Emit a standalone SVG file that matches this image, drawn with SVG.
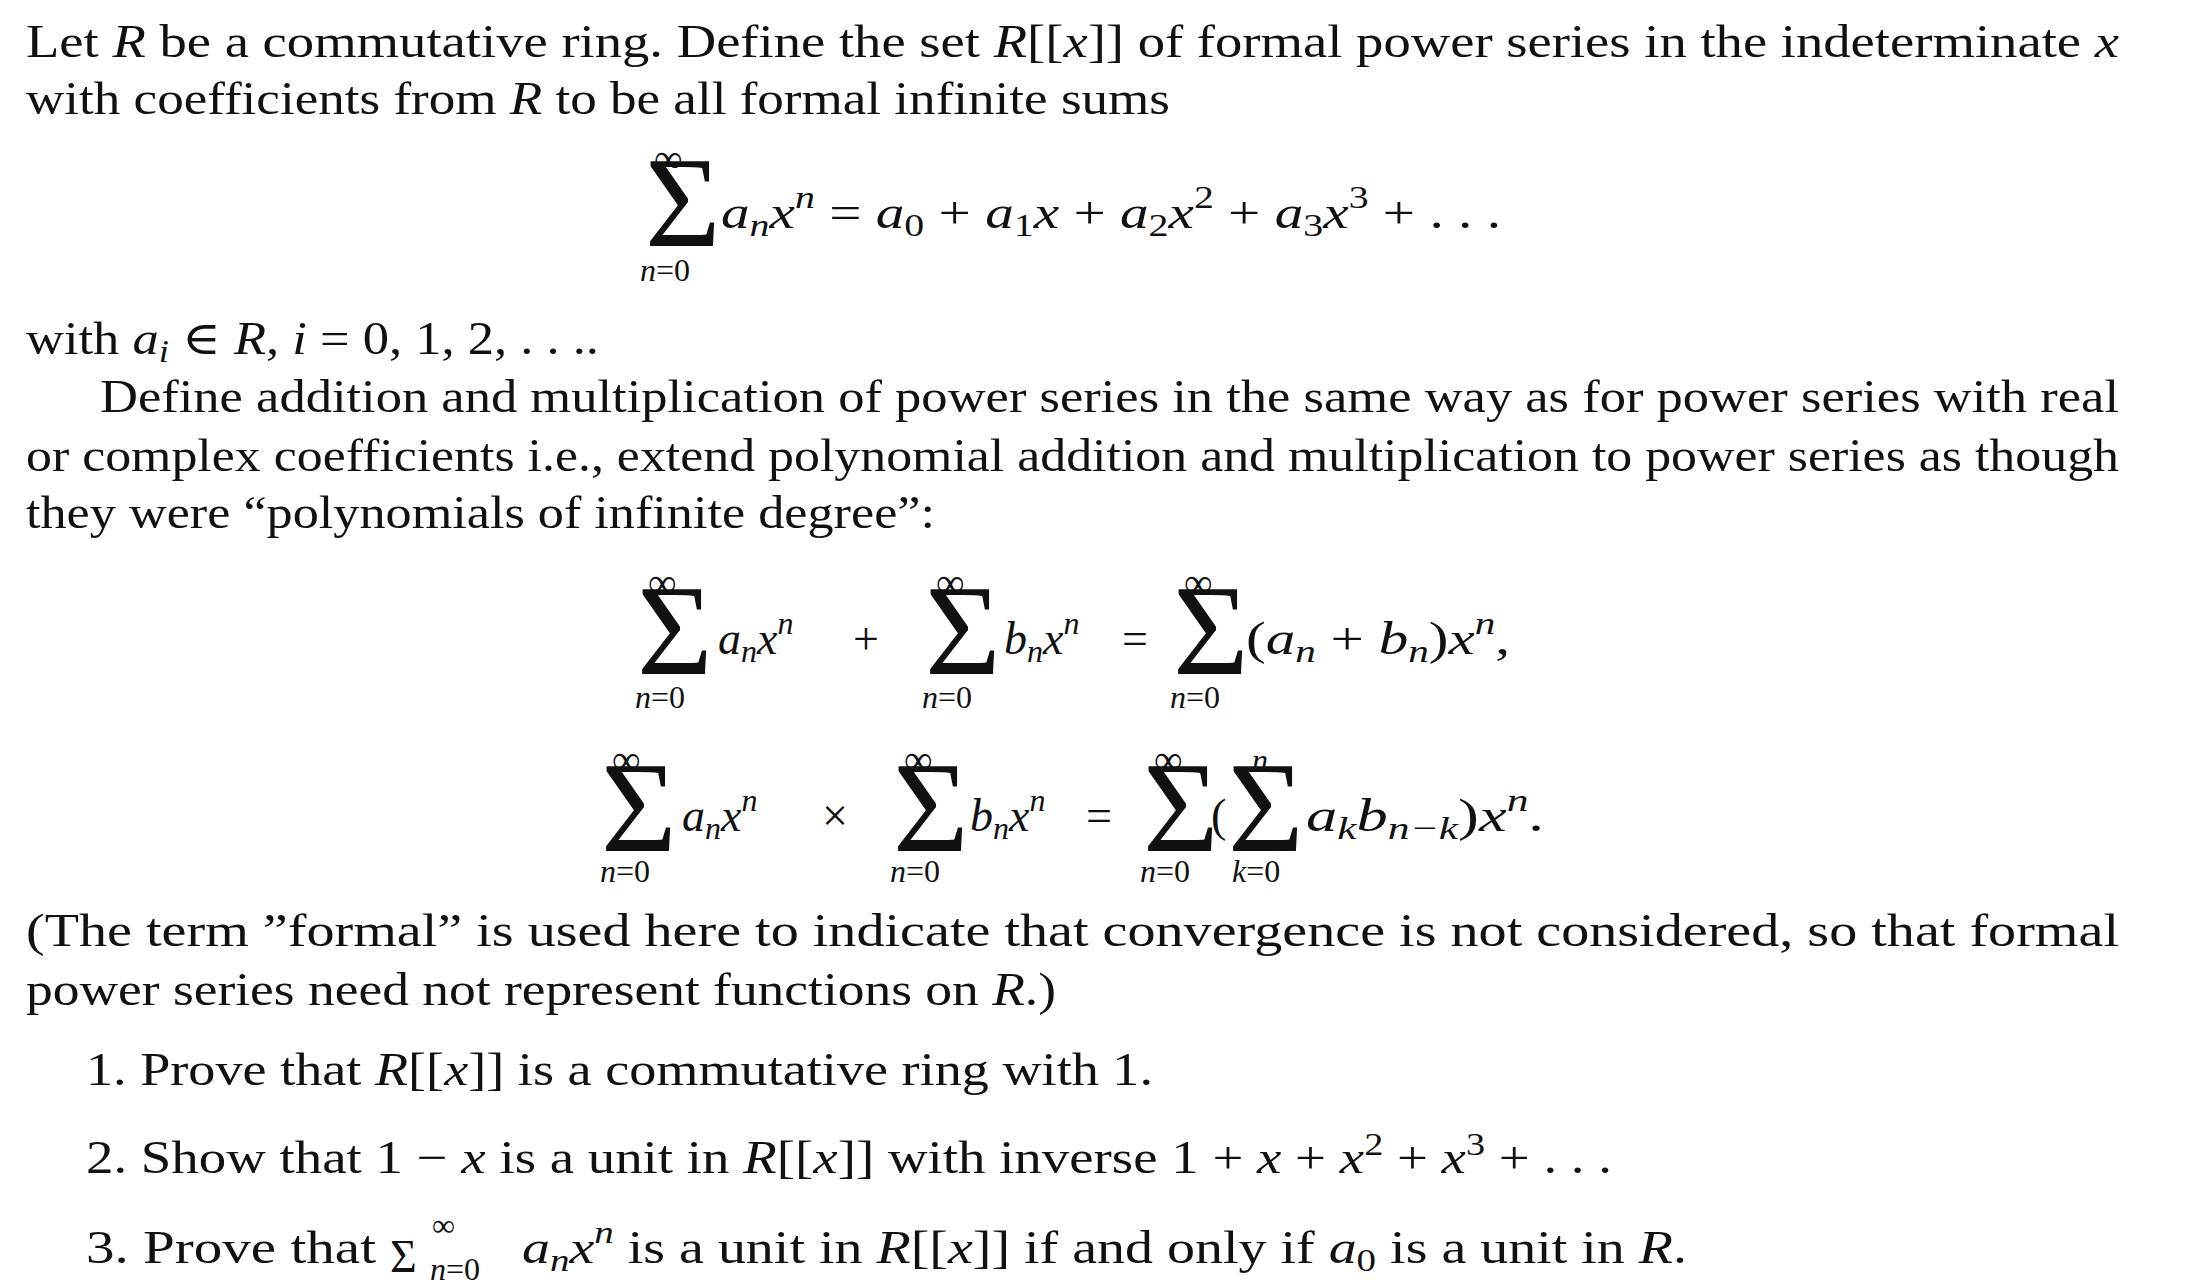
<svg xmlns="http://www.w3.org/2000/svg" width="2212" height="1288" viewBox="0 0 2212 1288">
<style>
text{font-family:"Liberation Serif","DejaVu Serif",serif;font-size:46px;fill:#111}
.i{font-style:italic}
.s{font-size:32px}
.inf{font-size:40px}
.S{font-size:130px}
.l{font-size:32px;font-style:italic}
</style>
<rect width="2212" height="1288" fill="#fff"/>
<g id="para1">
<text x="26" y="57" textLength="2093" lengthAdjust="spacingAndGlyphs">Let <tspan class="i">R</tspan> be a commutative ring. Define the set <tspan class="i">R</tspan>[[<tspan class="i">x</tspan>]] of formal power series in the indeterminate <tspan class="i">x</tspan></text>
<text x="26" y="114" textLength="1144" lengthAdjust="spacingAndGlyphs">with coefficients from <tspan class="i">R</tspan> to be all formal infinite sums</text>
</g>
<g id="eq1">
<text x="654" y="172" class="inf">∞</text>
<text x="645" y="246" class="S">Σ</text>
<text x="640" y="281" class="l">n<tspan font-style="normal">=0</tspan></text>
<text x="721" y="228" textLength="780" lengthAdjust="spacingAndGlyphs"><tspan class="i">a</tspan><tspan class="l" dy="8">n</tspan><tspan class="i" dy="-8">x</tspan><tspan class="l" dy="-20">n</tspan><tspan dy="20"> = </tspan><tspan class="i">a</tspan><tspan class="s" dy="8">0</tspan><tspan dy="-8"> + </tspan><tspan class="i">a</tspan><tspan class="s" dy="8">1</tspan><tspan class="i" dy="-8">x</tspan><tspan> + </tspan><tspan class="i">a</tspan><tspan class="s" dy="8">2</tspan><tspan class="i" dy="-8">x</tspan><tspan class="s" dy="-20">2</tspan><tspan dy="20"> + </tspan><tspan class="i">a</tspan><tspan class="s" dy="8">3</tspan><tspan class="i" dy="-8">x</tspan><tspan class="s" dy="-20">3</tspan><tspan dy="20"> + . . .</tspan></text>
</g>
<g id="para2">
<text x="26" y="354" textLength="573" lengthAdjust="spacingAndGlyphs">with <tspan class="i">a</tspan><tspan class="l" dy="8">i</tspan><tspan dy="-8"> ∈ </tspan><tspan class="i">R</tspan>, <tspan class="i">i</tspan> = 0, 1, 2, . . ..</text>
<text x="100" y="412" textLength="2019" lengthAdjust="spacingAndGlyphs">Define addition and multiplication of power series in the same way as for power series with real</text>
<text x="26" y="471" textLength="2093" lengthAdjust="spacingAndGlyphs">or complex coefficients i.e., extend polynomial addition and multiplication to power series as though</text>
<text x="26" y="528" textLength="909" lengthAdjust="spacingAndGlyphs">they were “polynomials of infinite degree”:</text>
</g>
<g id="eq2">
<text x="648" y="596" class="inf">∞</text><text x="936" y="596" class="inf">∞</text><text x="1184" y="596" class="inf">∞</text>
<text x="637" y="674" class="S">Σ</text><text x="925" y="674" class="S">Σ</text><text x="1173" y="674" class="S">Σ</text>
<text x="635" y="708" class="l">n<tspan font-style="normal">=0</tspan></text>
<text x="922" y="708" class="l">n<tspan font-style="normal">=0</tspan></text>
<text x="1170" y="708" class="l">n<tspan font-style="normal">=0</tspan></text>
<text x="718" y="654"><tspan class="i">a</tspan><tspan class="l" dy="8">n</tspan><tspan class="i" dy="-8">x</tspan><tspan class="l" dy="-20">n</tspan></text>
<text x="853" y="654">+</text>
<text x="1004" y="654"><tspan class="i">b</tspan><tspan class="l" dy="8">n</tspan><tspan class="i" dy="-8">x</tspan><tspan class="l" dy="-20">n</tspan></text>
<text x="1122" y="654">=</text>
<text x="1246" y="654" textLength="264" lengthAdjust="spacingAndGlyphs">(<tspan class="i">a</tspan><tspan class="l" dy="8">n</tspan><tspan dy="-8"> + </tspan><tspan class="i">b</tspan><tspan class="l" dy="8">n</tspan><tspan dy="-8">)</tspan><tspan class="i">x</tspan><tspan class="l" dy="-20">n</tspan><tspan dy="20">,</tspan></text>
</g>
<g id="eq3">
<text x="612" y="773" class="inf">∞</text><text x="904" y="773" class="inf">∞</text><text x="1154" y="773" class="inf">∞</text><text x="1252" y="771" class="l">n</text>
<text x="601" y="851" class="S">Σ</text><text x="893" y="851" class="S">Σ</text><text x="1143" y="851" class="S">Σ</text><text x="1228" y="851" class="S">Σ</text>
<text x="600" y="882" class="l">n<tspan font-style="normal">=0</tspan></text>
<text x="890" y="882" class="l">n<tspan font-style="normal">=0</tspan></text>
<text x="1140" y="882" class="l">n<tspan font-style="normal">=0</tspan></text>
<text x="1232" y="882" class="l">k<tspan font-style="normal">=0</tspan></text>
<text x="682" y="831"><tspan class="i">a</tspan><tspan class="l" dy="8">n</tspan><tspan class="i" dy="-8">x</tspan><tspan class="l" dy="-20">n</tspan></text>
<text x="822" y="831">×</text>
<text x="970" y="831"><tspan class="i">b</tspan><tspan class="l" dy="8">n</tspan><tspan class="i" dy="-8">x</tspan><tspan class="l" dy="-20">n</tspan></text>
<text x="1086" y="831">=</text>
<text x="1211" y="831">(</text>
<text x="1306" y="831" textLength="238" lengthAdjust="spacingAndGlyphs"><tspan class="i">a</tspan><tspan class="l" dy="8">k</tspan><tspan class="i" dy="-8">b</tspan><tspan class="l" dy="8">n−k</tspan><tspan dy="-8">)</tspan><tspan class="i">x</tspan><tspan class="l" dy="-20">n</tspan><tspan dy="20">.</tspan></text>
</g>
<g id="para3">
<text x="26" y="946" textLength="2093" lengthAdjust="spacingAndGlyphs">(The term ”formal” is used here to indicate that convergence is not considered, so that formal</text>
<text x="26" y="1005" textLength="1030" lengthAdjust="spacingAndGlyphs">power series need not represent functions on <tspan class="i">R</tspan>.)</text>
</g>
<g id="item1">
<text x="86" y="1085" textLength="1067" lengthAdjust="spacingAndGlyphs">1. Prove that <tspan class="i">R</tspan>[[<tspan class="i">x</tspan>]] is a commutative ring with 1.</text>
</g>
<g id="item2">
<text x="86" y="1173" textLength="1526" lengthAdjust="spacingAndGlyphs">2. Show that 1 − <tspan class="i">x</tspan> is a unit in <tspan class="i">R</tspan>[[<tspan class="i">x</tspan>]] with inverse 1 + <tspan class="i">x</tspan> + <tspan class="i">x</tspan><tspan class="s" dy="-18">2</tspan><tspan dy="18"> + </tspan><tspan class="i">x</tspan><tspan class="s" dy="-18">3</tspan><tspan dy="18"> + . . .</tspan></text>
</g>
<g id="item3">
<text x="86" y="1263" textLength="290" lengthAdjust="spacingAndGlyphs">3. Prove that</text>
<text x="390" y="1272" font-size="84">Σ</text>
<text x="432" y="1236" class="s">∞</text>
<text x="430" y="1280" class="l">n<tspan font-style="normal">=0</tspan></text>
<text x="522" y="1263" textLength="1165" lengthAdjust="spacingAndGlyphs"><tspan class="i">a</tspan><tspan class="l" dy="8">n</tspan><tspan class="i" dy="-8">x</tspan><tspan class="l" dy="-20">n</tspan><tspan dy="20"> is a unit in </tspan><tspan class="i">R</tspan>[[<tspan class="i">x</tspan>]] if and only if <tspan class="i">a</tspan><tspan class="s" dy="8">0</tspan><tspan dy="-8"> is a unit in </tspan><tspan class="i">R</tspan>.</text>
</g>
</svg>
